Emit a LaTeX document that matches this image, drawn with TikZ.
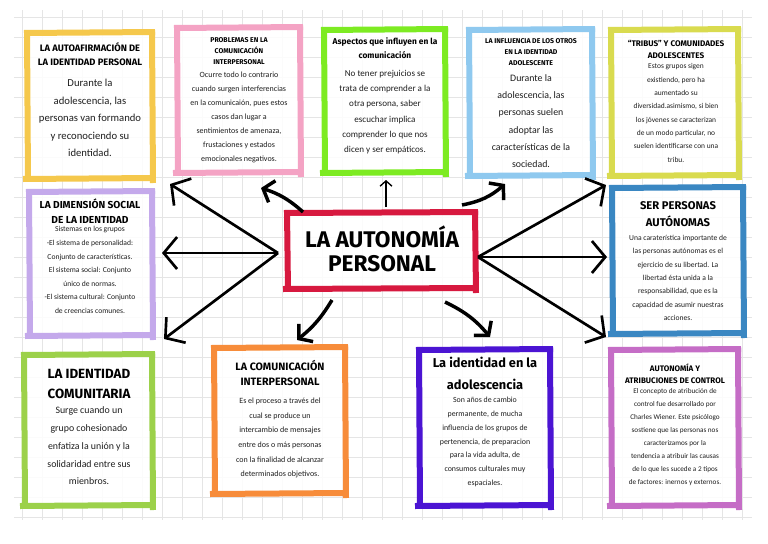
\documentclass[tikz,border=0pt]{standalone}
\usepackage{fontspec}
\usepackage{tikz}
\usetikzlibrary{arrows.meta,fit}

\newfontfamily\titfont{Fira Sans}
\newfontfamily\cuerpofont{Carlito}
\newcommand{\tit}[2]{\titfont\bfseries\fontsize{#1}{#2}\selectfont}
\newcommand{\cue}[2]{\cuerpofont\fontsize{#1}{#2}\selectfont}

\definecolor{amarillo}{HTML}{F5C84C}
\definecolor{rosa}{HTML}{F4A3C4}
\definecolor{verdelima}{HTML}{7DEB22}
\definecolor{celeste}{HTML}{8FC9EF}
\definecolor{oliva}{HTML}{D9DB4F}
\definecolor{lavanda}{HTML}{C4A9EB}
\definecolor{rojo}{HTML}{D7193F}
\definecolor{azul}{HTML}{3A87C2}
\definecolor{verde}{HTML}{9CD14A}
\definecolor{naranja}{HTML}{F78C3A}
\definecolor{morado}{HTML}{4B14D3}
\definecolor{magenta}{HTML}{C56DC6}

\begin{document}
\begin{tikzpicture}[x=0.75pt,y=-0.75pt,
  brocha/.style={draw=#1, line width=4.5pt, line cap=butt},
  texto/.style={align=center, inner sep=0, text=black!88},
  titulo/.style={align=center, inner sep=0, text=black},
  flecha/.style={-{Straight Barb[length=10pt,width=24pt]}, line width=2pt},
  curva/.style={-{Straight Barb[length=7pt,width=17pt]}, line width=2.6pt},
  cuadricula/.style={draw=black!10, line width=0.4pt}]
  \useasboundingbox (0,0) rectangle (768,543);
  \fill[white] (0,0) rectangle (768,543);
  % grid paper
  \foreach \gx in {22.7,42.7,...,742.7} { \draw[cuadricula] (\gx,10) -- (\gx,520); }
  \foreach \gy in {17,37,...,517} { \draw[cuadricula] (14,\gy) -- (752,\gy); }
  % brush frame helper
  \newcommand{\marco}[6]{%
    \node[inner sep=0, fit={(#2,#3) (#4,#5)}, fill=white, fill opacity=0.85] (#1) {};
    \draw[brocha=#6] (#2-4,#3) -- (#4+3,#3-1);
    \draw[brocha=#6] (#4,#3-3) -- (#4+1,#5+5);
    \draw[brocha=#6] (#4+2,#5) -- (#2-5,#5+1);
    \draw[brocha=#6] (#2,#5+3) -- (#2-1,#3-2);}
  \marco{autoafirm}{28}{33}{152}{178}{amarillo}
  \marco{problemas}{178}{28}{300}{172}{rosa}
  \marco{aspectos}{325}{30}{445}{172}{verdelima}
  \marco{influencia}{470}{30}{592}{175}{celeste}
  \marco{tribus}{612}{30}{738}{175}{oliva}
  \marco{dimension}{30}{192}{152}{335}{lavanda}
  \marco{autonomia}{288}{213}{475}{288}{rojo}
  \marco{autonomas}{613}{188}{743}{333}{azul}
  \marco{comunitaria}{25}{355}{152}{505}{verde}
  \marco{comunicacion}{215}{348}{345}{493}{naranja}
  \marco{adolescencia}{420}{350}{550}{505}{morado}
  \marco{atribuciones}{612}{350}{738}{505}{magenta}
  % texts
  \node[titulo, font=\tit{17}{18}] (autonomia-t) at (382,249) {LA AUTONOMÍA\\PERSONAL};
  \node[titulo, font=\tit{7}{10.5}] (autoafirm-t) at (90,54) {LA AUTOAFIRMACIÓN DE\\LA IDENTIDAD PERSONAL};
  \node[texto, font=\cue{8}{13.2}] (autoafirm-c) at (90,118) {Durante la\\adolescencia, las\\personas van formando\\y reconociendo su\\identidad.};
  \node[titulo, font=\tit{5.2}{8.2}] (problemas-t) at (239,51) {PROBLEMAS EN LA\\COMUNICACIÓN\\INTERPERSONAL};
  \node[texto, font=\cue{6}{10.5}] (problemas-c) at (239,117) {Ocurre todo lo contrario\\cuando surgen interferencias\\en la comunicaión, pues estos\\casos dan lugar a\\sentimientos de amenaza,\\frustaciones y estados\\emocionales negativos.};
  \node[titulo, font=\tit{6.3}{11}] (aspectos-t) at (385,48) {Aspectos que influyen en la\\comunicación};
  \node[texto, font=\cue{6.8}{11.5}] (aspectos-c) at (385,112) {No tener prejuicios se\\trata de comprender a la\\otra persona, saber\\escuchar implica\\comprender lo que nos\\dicen y ser empáticos.};
  \node[titulo, font=\tit{5.2}{8.2}] (influencia-t) at (531,52) {LA INFLUENCIA DE LOS OTROS\\EN LA IDENTIDAD\\ADOLESCENTE};
  \node[texto, font=\cue{7.4}{13}] (influencia-c) at (531,121) {Durante la\\adolescencia, las\\personas suelen\\adoptar las\\características de la\\sociedad.};
  \node[titulo, font=\tit{6.1}{9}] (tribus-t) at (676,49) {“TRIBUS” Y COMUNIDADES\\ADOLESCENTES};
  \node[texto, font=\cue{5.6}{10}] (tribus-c) at (676,113) {Estos grupos sigen\\existiendo, pero ha\\aumentado su\\diversidad.asimismo, si bien\\los jóvenes se caracterizan\\de un modo particular, no\\suelen identificarse con una\\tribu.};
  \node[titulo, font=\tit{7.6}{11.5}] (dimension-t) at (90,211) {LA DIMENSIÓN SOCIAL\\DE LA IDENTIDAD};
  \node[texto, font=\cue{5.7}{10.2}] (dimension-c) at (90,270) {Sistemas en los grupos\\-El sistema de personalidad:\\Conjunto de características.\\El sistema social: Conjunto\\único de normas.\\-El sistema cultural: Conjunto\\de creencias comunes.};
  \node[titulo, font=\tit{8.4}{12.8}] (autonomas-t) at (678,214) {SER PERSONAS\\AUTÓNOMAS};
  \node[texto, font=\cue{5.7}{10}] (autonomas-c) at (678,278) {Una caraterística importante de\\las personas autónomas es el\\ejercicio de su libertad. La\\libertad ésta unida a la\\responsabilidad, que es la\\capacidad de asumir nuestras\\acciones.};
  \node[titulo, font=\tit{10}{14.5}] (comunitaria-t) at (89,384) {LA IDENTIDAD\\COMUNITARIA};
  \node[texto, font=\cue{7.4}{13.3}] (comunitaria-c) at (89,446) {Surge cuando un\\grupo cohesionado\\enfatiza la unión y la\\solidaridad entre sus\\mienbros.};
  \node[titulo, font=\tit{8}{11.2}] (comunicacion-t) at (280,373) {LA COMUNICACIÓN\\INTERPERSONAL};
  \node[texto, font=\cue{6}{11}] (comunicacion-c) at (280,438) {Es el proceso a través del\\cual se produce un\\intercambio de mensajes\\entre dos o más personas\\con la finalidad de alcanzar\\determinados objetivos.};
  \node[titulo, font=\tit{9.6}{16.5}] (adolescencia-t) at (485,373) {La identidad en la\\adolescencia};
  \node[texto, font=\cue{5.9}{10.3}] (adolescencia-c) at (485,442) {Son años de cambio\\permanente, de mucha\\influencia de los grupos de\\pertenencia, de preparacion\\para la vida adulta, de\\consumos culturales muy\\espaciales.};
  \node[titulo, font=\tit{6}{9}] (atribuciones-t) at (675,374) {AUTONOMÍA Y\\ATRIBUCIONES DE CONTROL};
  \node[texto, font=\cue{5.4}{9.7}] (atribuciones-c) at (675,437) {El concepto de atribución de\\control fue desarrollado por\\Charles Wiener. Este psicólogo\\sostiene que las personas nos\\caracterizamos por la\\tendencia a atribuir las causas\\de lo que les sucede a 2 tipos\\de factores: inernos y externos.};
  % arrow ends
  \coordinate (o-izq) at (278,253);
  \coordinate (o-der) at (478,257);
  \coordinate (f-ai) at (170,184);
  \coordinate (f-i) at (162,253);
  \coordinate (f-bi) at (164,339);
  \coordinate (f-ad) at (606,185);
  \coordinate (f-d) at (607,257);
  \coordinate (f-bd) at (606,337);
  \coordinate (s-1) at (303,212); \coordinate (f-1) at (261,188);
  \coordinate (s-2) at (386,207); \coordinate (f-2) at (386,180);
  \coordinate (s-3) at (462,205); \coordinate (f-3) at (505,184);
  \coordinate (s-4) at (332,300); \coordinate (f-4) at (297,340);
  \coordinate (s-5) at (445,302); \coordinate (f-5) at (490,337);
  % arrows
  \foreach \f in {f-ai,f-i,f-bi} { \draw[flecha] (o-izq) -- (\f); }
  \foreach \f in {f-ad,f-d,f-bd} { \draw[flecha] (o-der) -- (\f); }
  \draw[curva] (s-1) to[bend right=12] (f-1);
  \draw[-{Straight Barb[length=4pt,width=9pt]}, line width=1pt] (s-2) -- (f-2);
  \draw[curva] (s-3) to[bend right=15] (f-3);
  \draw[curva] (s-4) to[bend left=10] (f-4);
  \draw[curva] (s-5) to[bend left=12] (f-5);
\end{tikzpicture}
\end{document}
